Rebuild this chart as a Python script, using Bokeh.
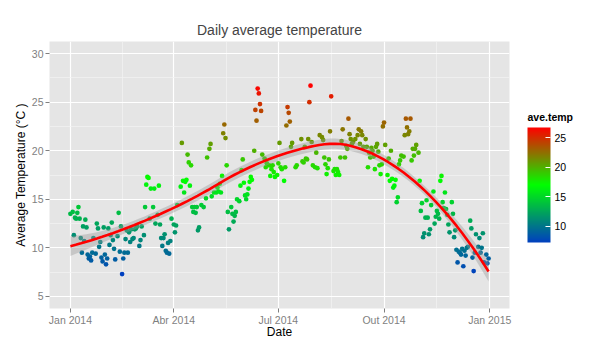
import numpy as np
import pandas as pd
from bokeh.plotting import figure
from bokeh.layouts import row
from bokeh.models import ColumnDataSource, LinearColorMapper, ColorBar, FixedTicker, Range1d
from bokeh.core.properties import value
from bokeh.embed import file_html
from bokeh.resources import INLINE

# ---------------- data ----------------
year_start = "2014-01-01"
day_of_year = [
    0, 2, 3, 4, 5, 6, 7, 8, 9, 10, 11, 12, 13, 14, 15, 16, 17, 18, 19, 20, 22, 23, 24, 25, 26, 27, 28, 29, 30,
    31, 32, 33, 34, 35, 36, 37, 38, 39, 41, 42, 43, 44, 45, 46, 47, 48, 49, 50, 51, 52, 53, 54, 55, 56, 57, 58,
    60, 61, 62, 64, 65, 66, 67, 68, 69, 70, 72, 73, 74, 76, 77, 78, 79, 80, 81, 82, 83, 84, 85, 86, 87, 88,
    90, 91, 92, 93, 96, 97, 98, 99, 100, 101, 102, 103, 104, 105, 106, 107, 108, 109, 110, 111, 112, 114, 116,
    118, 119, 121, 122, 123, 125, 127, 128, 129, 130, 131, 132, 133, 134, 135, 136, 137, 138, 140, 141, 142,
    143, 144, 145, 147, 148, 149, 150, 151, 152, 153, 154, 155, 156, 157, 158, 160, 161, 162, 163, 164, 165,
    166, 167, 169, 170, 171, 173, 174, 175, 176, 177, 178, 180, 181, 182, 183, 184, 186, 187, 188, 189, 190,
    191, 192, 193, 196, 197, 201, 202, 203, 204, 205, 206, 207, 208, 209, 210, 211, 213, 214, 215, 217, 219,
    220, 221, 222, 223, 224, 225, 226, 227, 229, 230, 231, 232, 233, 234, 235, 236, 237, 239, 240, 241, 242,
    243, 244, 245, 246, 248, 250, 251, 252, 253, 254, 255, 257, 258, 259, 260, 261, 262, 263, 264, 265, 266,
    267, 268, 269, 270, 271, 272, 273, 274, 276, 277, 278, 279, 280, 281, 282, 283, 284, 285, 286, 287, 288,
    290, 291, 292, 293, 294, 295, 296, 297, 298, 299, 300, 301, 303, 304, 305, 306, 307, 308, 309, 310, 311,
    312, 313, 314, 316, 317, 318, 319, 320, 321, 322, 323, 324, 325, 326, 327, 328, 329, 330, 332, 333, 334,
    335, 336, 337, 338, 339, 340, 341, 342, 343, 344, 345, 346, 348, 349, 350, 351, 352, 353, 355, 356, 357,
    358, 359, 360, 362, 363, 364,
]
ave_temp = [
    13.5, 13.7, 11.3, 13.1, 13.0, 13.6, 14.2, 13.0, 11.0, 9.5, 12.2, 10.7, 12.9, 12.1, 9.3, 8.9, 9.1, 8.7, 9.5,
    11.0, 9.4, 12.5, 12.0, 10.1, 10.6, 9.0, 8.6, 12.1, 9.3,
    8.3, 8.9, 12.0, 10.3, 11.3, 12.6, 10.8, 9.9, 8.8, 11.2, 13.6, 9.6, 12.2, 7.3, 8.9, 9.5, 10.9, 11.8, 9.5,
    11.6, 10.6, 11.9, 10.9, 11.0, 11.9, 12.0, 12.2,
    10.2, 10.8, 12.2, 11.3, 14.2, 16.5, 17.3, 17.2, 13.0, 16.1, 14.2, 16.1, 12.5, 13.4, 16.4, 12.4, 11.0, 10.2,
    11.0, 11.4, 9.7, 9.5, 10.5, 9.4, 10.7, 13.0,
    12.4, 11.6, 12.3, 14.4, 16.3, 20.8, 16.9, 15.7, 16.8, 17.0, 19.6, 18.8, 16.4, 18.5, 14.2, 13.7, 14.2, 13.6,
    14.2, 11.8, 12.1, 14.4, 14.2,
    15.1, 19.3, 20.2, 20.7, 15.3, 15.7, 15.7, 16.2, 15.8, 16.6, 15.7, 17.4, 21.8, 22.7, 21.3, 18.5, 13.7, 11.9,
    14.2, 13.5, 12.7,
    13.3, 13.7, 15.0, 14.8, 16.4, 18.0, 19.1, 16.7, 15.4, 15.0, 15.5, 16.1, 16.8, 17.3, 17.0, 20.0, 24.2, 23.1,
    26.4, 25.9, 24.8,
    24.1, 19.6, 19.2, 18.3, 18.7, 18.5, 17.4, 18.1, 18.5, 17.8, 17.3, 17.5, 18.7, 20.8, 18.3, 18.1, 16.9, 18.3,
    22.6, 24.5, 23.9,
    23.0, 20.4, 20.8, 18.3, 18.5, 21.2, 18.9, 18.8, 20.4, 19.2, 19.1, 21.2, 25.0, 26.7, 20.9, 18.5, 18.3, 19.8,
    18.2, 21.6, 21.4,
    21.1, 19.3, 18.6, 17.6, 18.2, 19.1, 22.0, 25.6, 17.9, 18.1, 17.5, 18.1, 17.8, 17.5, 19.3, 21.0, 22.2, 19.3,
    20.5, 20.2, 23.3,
    21.7, 21.2, 20.7, 20.9, 21.2, 21.6, 22.2, 20.7, 22.0, 21.6, 20.4, 21.2, 20.4, 18.3, 19.8, 19.3, 20.3, 20.0,
    19.4, 18.1, 20.4,
    20.7, 19.9, 18.5, 17.6, 18.6, 22.5, 22.9, 20.6, 17.5, 19.2, 16.9, 20.0, 17.1, 16.2, 16.4, 17.0, 14.7, 15.2,
    18.6, 19.0, 19.5,
    19.4, 21.6, 23.3, 22.4, 21.7, 22.0, 23.3, 19.0, 20.2, 19.5, 20.2, 20.6, 19.8, 16.9, 13.8, 14.6, 11.1, 11.5,
    13.1, 14.9, 13.1,
    11.4, 11.9, 14.4, 15.8, 12.5, 13.2, 13.8, 13.5, 13.0, 16.9, 17.4, 14.7, 14.1, 15.7, 14.0, 13.4, 12.4, 11.6,
    14.7, 13.5, 11.1,
    11.8, 9.8, 8.5, 9.6, 9.5, 9.3, 9.9, 8.1, 9.7, 9.2, 10.0, 10.1, 12.8, 12.0, 9.0, 7.6, 9.5, 11.4, 10.1, 11.0,
    9.5,
    10.0, 11.5, 8.5, 9.3, 8.4, 8.9,
]
x_tick_dates = ["2014-01-01", "2014-04-01", "2014-07-01", "2014-10-01", "2015-01-01"]
x_tick_labels = ["Jan 2014", "Abr 2014", "Jul 2014", "Out 2014", "Jan 2015"]
y_ticks = [5, 10, 15, 20, 25, 30]
legend_ticks = [10, 15, 20, 25]
legend_title = "ave.temp"
gradient_colours = ["#0040C0", "#00FF00", "#FF0000"]

# ---------------- helpers ----------------
def to_ms(ts):
    return pd.Timestamp(ts).value / 1e6


def hex_to_rgb(h):
    h = h.lstrip("#")
    return np.array([int(h[i:i + 2], 16) for i in (0, 2, 4)], dtype=float)


def rgb_palette(colours, n=256):
    rgbs = np.array([hex_to_rgb(c) for c in colours])
    stops = np.linspace(0, 1, len(colours))
    t = np.linspace(0, 1, n)
    chans = [np.interp(t, stops, rgbs[:, k]) for k in range(3)]
    return ["#%02x%02x%02x" % tuple(int(round(c[i])) for c in chans) for i in range(n)]


def loess(x, y, x_new, span=0.75):
    n = len(x)
    q = int(np.floor(n * span))

    def row_w(x0):
        d = np.abs(x - x0)
        h = np.sort(d)[q - 1]
        u = np.clip(d / h, 0, 1)
        w = (1 - u ** 3) ** 3
        X = np.vstack([np.ones(n), x - x0, (x - x0) ** 2]).T
        XtW = X.T * w
        return np.linalg.solve(XtW @ X, XtW)[0]

    L_new = np.array([row_w(v) for v in x_new])
    L = np.array([row_w(v) for v in x])
    fit = L_new @ y
    R = np.eye(n) - L
    d1 = np.trace(R.T @ R)
    resid = R @ y
    sigma = np.sqrt(resid @ resid / d1)
    se = sigma * np.sqrt((L_new ** 2).sum(axis=1))
    return fit, se


# ---------------- derived ----------------
day_arr = np.array(day_of_year, dtype=float)
temp_arr = np.array(ave_temp, dtype=float)
start = pd.Timestamp(year_start)
dates = start + pd.to_timedelta(day_arr, unit="D")

xs = np.linspace(day_arr.min(), day_arr.max(), 80)
fit, se = loess(day_arr, temp_arr, xs)
tq = 1.968
smooth_dates = start + pd.to_timedelta(xs, unit="D")

pts = ColumnDataSource(dict(date=dates, temp=temp_arr))
smooth = ColumnDataSource(dict(date=smooth_dates, fit=fit, lo=fit - tq * se, hi=fit + tq * se))

span_days = day_arr.max() - day_arr.min()
x_start = start + pd.Timedelta(days=day_arr.min() - 0.05 * span_days)
x_end = start + pd.Timedelta(days=day_arr.max() + 0.05 * span_days)
y_lo, y_hi = min(y_ticks), max(y_ticks)
y_pad = 0.05 * (y_hi - y_lo)

palette = rgb_palette(gradient_colours, 256)
mapper = LinearColorMapper(palette=palette, low=temp_arr.min(), high=temp_arr.max())

FONT = "Liberation Sans"
H = 341
W_MAIN, W_LEG = 525, 68
BL, BR, BT, BB = 49, 16, 41, 30
FRAME_TOP, FRAME_BOTTOM = 41, 307   # frame edges in canvas pixels (the row aligns both frames)

# ---------------- main panel ----------------
p = figure(width=W_MAIN, height=H, x_axis_type="datetime", output_backend="svg", toolbar_location=None,
           x_range=Range1d(x_start, x_end), y_range=Range1d(y_lo - y_pad, y_hi + y_pad),
           title="Daily average temperature", x_axis_label="Date",
           y_axis_label="Average Temperature (°C )",
           min_border_left=BL, min_border_right=BR, min_border_top=BT, min_border_bottom=BB)

p.background_fill_color = "#E5E5E5"
p.border_fill_color = "white"
p.outline_line_color = None

p.title.text_font = FONT
p.title.text_font_size = "14px"
p.title.text_font_style = "normal"
p.title.align = "center"
p.title.standoff = 7

major_x = [to_ms(d) for d in x_tick_dates]
minor_x = [(a + b) / 2 for a, b in zip(major_x[:-1], major_x[1:])]
p.xaxis.ticker = FixedTicker(ticks=major_x, minor_ticks=minor_x)
p.xaxis.major_label_overrides = {t: lab for t, lab in zip(major_x, x_tick_labels)}
minor_y = [(a + b) / 2 for a, b in zip(y_ticks[:-1], y_ticks[1:])]
p.yaxis.ticker = FixedTicker(ticks=y_ticks, minor_ticks=minor_y)

for ax in (p.xaxis[0], p.yaxis[0]):
    ax.axis_line_color = None
    ax.major_tick_line_color = "#7F7F7F"
    ax.major_tick_out = 4
    ax.major_tick_in = 0
    ax.minor_tick_line_color = None
    ax.major_label_text_font = FONT
    ax.major_label_text_font_size = "10.5px"
    ax.major_label_text_color = "#7F7F7F"
    ax.major_label_standoff = 2
    ax.axis_label_text_font = FONT
    ax.axis_label_text_font_size = "12px"
    ax.axis_label_text_font_style = "normal"
    ax.axis_label_text_color = "black"
    ax.axis_label_standoff = 1
p.xaxis[0].major_label_standoff = 1
p.xaxis[0].axis_label_standoff = -4

for g in (p.xgrid[0], p.ygrid[0]):
    g.grid_line_color = "white"
    g.grid_line_width = 1.2
    g.minor_grid_line_color = "#F4F4F4"
    g.minor_grid_line_width = 0.7

p.scatter(x="date", y="temp", source=pts, size=4.7, line_color=None,
          fill_color={"field": "temp", "transform": mapper})
p.varea(x="date", y1="lo", y2="hi", source=smooth, fill_color="#999999", fill_alpha=0.4)
p.line(x="date", y="fit", source=smooth, line_color="#FF0000", line_width=2.6)

# ---------------- legend panel (colour bar + its title) ----------------
leg = figure(width=W_LEG, height=H, output_backend="svg", toolbar_location=None,
             x_range=Range1d(0, W_LEG), y_range=Range1d(FRAME_BOTTOM, FRAME_TOP),
             x_axis_location=None, y_axis_location=None,
             min_border_left=0, min_border_right=0, min_border_top=BT, min_border_bottom=BB)
leg.grid.visible = False
leg.outline_line_color = None
leg.background_fill_color = "white"
leg.border_fill_color = "white"

leg.text(x=[2], y=[116.5], text=[legend_title], text_font=value(FONT), text_font_size="10.5px",
         text_font_style="bold", text_color="black", text_align="left", text_baseline="middle")

cb = ColorBar(color_mapper=mapper, ticker=FixedTicker(ticks=legend_ticks), title=None,
              width=23, height=115, location=(2, FRAME_BOTTOM - 241), padding=0, margin=0,
              major_label_text_font=FONT, major_label_text_font_size="10.5px",
              major_label_text_color="black", label_standoff=4,
              major_tick_line_color="white", major_tick_in=5, major_tick_out=0,
              minor_tick_line_color=None, bar_line_color=None, border_line_color=None,
              background_fill_color=None)
leg.add_layout(cb, "center")

layout = row(p, leg, spacing=0)
open("out.html", "w").write(file_html(layout, INLINE))
